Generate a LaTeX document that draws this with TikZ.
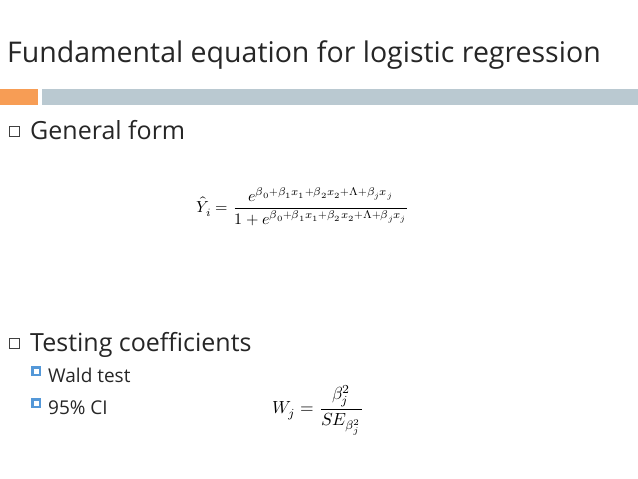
\documentclass[tikz,border=0pt]{standalone}
\usepackage{fontspec}
\setmainfont{Open Sans}
\usepackage{unicode-math}
\usepackage{graphicx}
\begin{document}
\begin{tikzpicture}[x=1pt,y=-1pt,
  txt/.style={anchor=base west,inner sep=0pt,text=black!85}]
\useasboundingbox (0,0) rectangle (638,479);
\node[txt,font=\fontsize{28.5}{32}\selectfont] (title) at (7,62) {Fundamental equation for logistic regression};
\fill[orange!80!brown!90!red!70] (0,89) rectangle (38,105);
\fill[blue!35!cyan!20!gray!45] (42,89) rectangle (638,105);
\draw[draw=black!75,line width=0.8pt] (9,126) rectangle (19,136);
\node[txt,font=\fontsize{25}{28}\selectfont] (g) at (30,139) {General form};
\node (eq) at (303,207) {\scalebox{1.6}{$\hat{Y}_i=\dfrac{e^{\beta_0+\beta_1x_1+\beta_2x_2+\Lambda+\beta_jx_j}}{1+e^{\beta_0+\beta_1x_1+\beta_2x_2+\Lambda+\beta_jx_j}}$}};
\draw[draw=black!75,line width=0.8pt] (9,338) rectangle (19,348);
\node[txt,font=\fontsize{25}{28}\selectfont] (t) at (30,351) {Testing coefficients};
\foreach \yy/\tt/\nm in {376/Wald test/w, 408/95\% CI/c}{
  \fill[cyan!60!blue!70] (31,\yy-10) rectangle (41,\yy);
  \fill[white] (33.5,\yy-7.5) rectangle (38.5,\yy-2.5);
  \node[txt,font=\fontsize{19}{22}\selectfont] (\nm) at (48,\yy+6) {\tt};}
\node (wald) at (318,410) {\scalebox{1.75}{$W_j=\dfrac{\beta_j^2}{SE_{\beta_j^2}}$}};
\end{tikzpicture}
\end{document}
